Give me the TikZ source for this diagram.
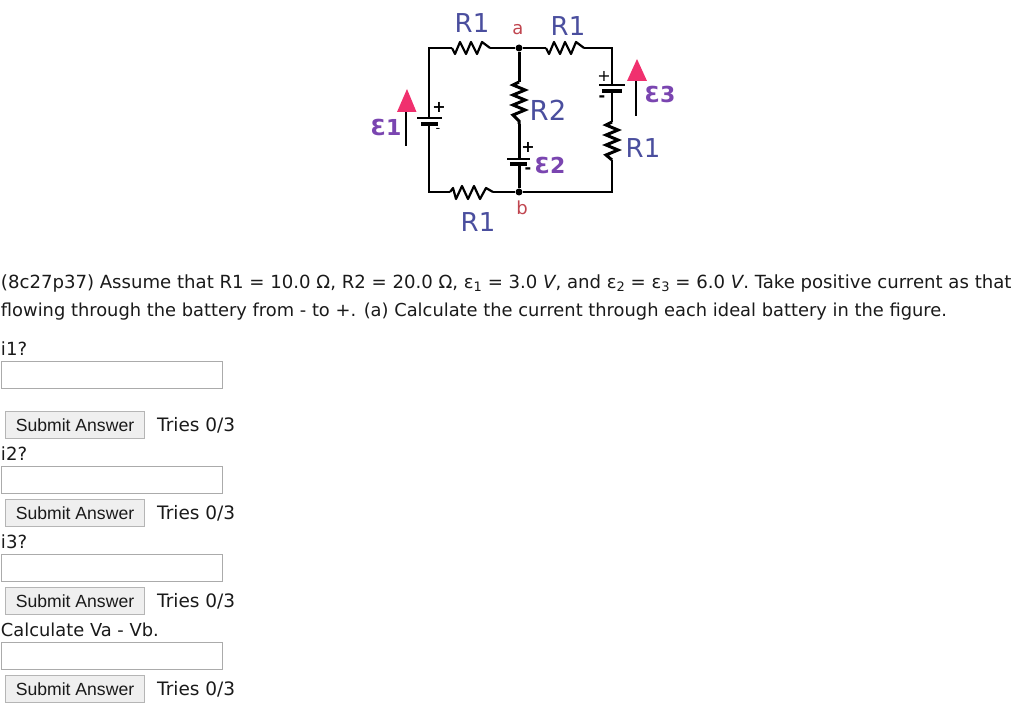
\documentclass[tikz,border=0pt]{standalone}
\usepackage{fontspec}
\setmainfont{DejaVu Sans}
\newfontfamily\btnfont{Liberation Sans}
\definecolor{labblue}{HTML}{4A4E9E}
\definecolor{labred}{HTML}{C0454F}
\definecolor{labpurple}{HTML}{7A45B0}
\definecolor{arrowpink}{HTML}{F0306E}
\definecolor{btnfill}{HTML}{EFEFEF}
\definecolor{btnline}{HTML}{B5B5B5}
\definecolor{boxline}{HTML}{ABABAB}
\definecolor{txt}{HTML}{1A1A1A}
\tikzset{
  x=1pt,y=-1pt,
  body/.style={anchor=base west,inner sep=0pt,outer sep=0pt,text=txt,font=\fontsize{18.1}{20}\selectfont},
  bodyb/.style={anchor=base west,inner sep=0pt,outer sep=0pt,text=txt,font=\fontsize{17.85}{20}\selectfont},
  tries/.style={anchor=base west,inner sep=0pt,text=txt,font=\fontsize{18.5}{22}\selectfont},
  answerbox/.style={draw=boxline,line width=1pt,fill=white,minimum width=221pt,minimum height=27pt,anchor=north west,inner sep=0pt,outer sep=0pt},
  submitbtn/.style={draw=btnline,line width=1pt,fill=btnfill,minimum width=139pt,minimum height=27pt,anchor=north west,inner sep=0pt,text=txt,font=\btnfont\fontsize{17.6}{20}\selectfont},
  wire/.style={line width=2.3pt,black,line join=miter},
  thickwire/.style={line width=3pt,black},
  plate/.style={line width=1.8pt,black},
  shortplate/.style={line width=3.2pt,black},
  zig/.style={line width=2.2pt,black,line join=round},
  vzig/.style={line width=3pt,black,line join=miter},
  sign/.style={inner sep=0pt,text=black,font=\bfseries\fontsize{16}{16}\selectfont},
  rlabel/.style={inner sep=0pt,text=labblue,font=\fontsize{26}{26}\selectfont},
  ptlabel/.style={inner sep=0pt,text=labred,font=\fontsize{18}{18}\selectfont},
  emf/.style={inner sep=0pt,text=labpurple,font=\bfseries\fontsize{22}{22}\selectfont},
  stem/.style={line width=2.2pt,black},
  head/.style={fill=arrowpink,draw=none},
}
\begin{document}
\begin{tikzpicture}
\useasboundingbox (0,0) rectangle (1024,703);
% junctions and corners
\coordinate (tl) at (429,48);
\coordinate (tr) at (612,48);
\coordinate (bl) at (429,192);
\coordinate (br) at (612,192);
\node[circle,fill=black,minimum size=7pt,inner sep=0pt] (a) at (519,48) {};
\node[circle,fill=black,minimum size=7pt,inner sep=0pt] (b) at (519,192) {};
% resistor terminals
\coordinate (r1s) at (452,48); \coordinate (r1e) at (490,48);
\coordinate (r2s) at (546,48); \coordinate (r2e) at (584,48);
\coordinate (r3s) at (450,192); \coordinate (r3e) at (493,192);
\coordinate (r4s) at (519,82); \coordinate (r4e) at (519,124);
\coordinate (r5s) at (612,122); \coordinate (r5e) at (612,160);
% battery plates
\coordinate (b1a) at (429,118); \coordinate (b1b) at (429,124);
\coordinate (b2a) at (519,159); \coordinate (b2b) at (519,164);
\coordinate (b3a) at (612,85);  \coordinate (b3b) at (612,91);
% wires
\draw[wire] (b1a) -- (tl) -- (r1s);
\draw[wire] (r1e) -- (a) -- (r2s);
\draw[wire] (r2e) -- (tr) -- (b3a);
\draw[wire] (b3b) -- (r5s);
\draw[wire] (r5e) -- (br) -- (b) -- (r3e);
\draw[wire] (r3s) -- (bl) -- (b1b);
\draw[thickwire] (a) -- (r4s);
\draw[thickwire] (r4e) -- (b2a);
\draw[thickwire] (b2b) -- (b);
% horizontal resistors
\draw[zig] (r1s) -- ++(3,6) -- ++(5,-12) -- ++(6,12) -- ++(5,-12) -- ++(6,12) -- ++(5,-12) -- (r1e);
\draw[zig] (r2s) -- ++(3,6) -- ++(5,-12) -- ++(6,12) -- ++(5,-12) -- ++(6,12) -- ++(5,-12) -- (r2e);
\draw[zig] (r3s) -- ++(3,-4) -- ++(3,11) -- ++(6,-13) -- ++(6,13) -- ++(6,-13) -- ++(6,13) -- ++(6,-11) -- (r3e);
% vertical resistors
\draw[vzig] (r4s) -- ++(-6,3) -- ++(12,5) -- ++(-12,5) -- ++(12,5) -- ++(-12,5) -- ++(12,5) -- ++(-12,5) -- ++(6,6) -- (r4e);
\draw[vzig] (r5s) -- ++(-6,3) -- ++(12,5) -- ++(-12,5) -- ++(12,5) -- ++(-12,5) -- ++(12,5) -- ++(-12,5) -- (r5e);
% batteries
\draw[plate] (417,118) -- (442,118);
\draw[shortplate] (421,124) -- (438,124);
\draw[plate] (507,159) -- (530,159);
\draw[shortplate] (510,164) -- (527,164);
\draw[plate] (599,85) -- (625,85);
\draw[shortplate] (602,91) -- (622,91);
% signs
\node[sign] (p1) at (439,107) {+};
\node[sign,font=\fontsize{13}{13}\selectfont] (m1) at (438,130) {-};
\node[sign] (p2) at (528,147) {+};
\node[sign] (m2) at (528,171) {-};
\node[sign,font=\fontsize{16}{16}\selectfont] (p3) at (604,76) {+};
\node[sign] (m3) at (602,99) {-};
% emf arrows
\coordinate (e1t) at (406,112); \coordinate (e1b) at (406,146);
\coordinate (e3t) at (636,81);  \coordinate (e3b) at (636,116);
\draw[stem] (e1t) -- (e1b);
\draw[stem] (e3t) -- (e3b);
\fill[head] (407,89) -- (416.5,112) -- (397,112) -- cycle;
\fill[head] (637,59) -- (647,81) -- (627,81) -- cycle;
% circuit labels
\node[rlabel] (l1) at (472,23) {R1};
\node[rlabel] (l2) at (568,26) {R1};
\node[rlabel] (l3) at (478,222) {R1};
\node[rlabel,font=\fontsize{27.5}{27.5}\selectfont] (l4) at (548,110) {R2};
\node[rlabel] (l5) at (643,148) {R1};
\node[ptlabel] (la) at (518,30) {a};
\node[ptlabel] (lb) at (522,208) {b};
\node[emf] (ee1) at (386,127) {Ɛ1};
\node[emf] (ee2) at (550,165) {Ɛ2};
\node[emf] (ee3) at (660,94) {Ɛ3};
% question text
\node[body] (q1) at (1,288) {(8c27p37) Assume that R1 = 10.0 Ω, R2 = 20.0 Ω, ε\raisebox{-3pt}{\fontsize{13}{13}\selectfont 1} = 3.0 \textit{V}, and ε\raisebox{-3pt}{\fontsize{13}{13}\selectfont 2} = ε\raisebox{-3pt}{\fontsize{13}{13}\selectfont 3} = 6.0 \textit{V}. Take positive current as that};
\node[bodyb] (q2) at (1,316) {flowing through the battery from - to +. (a) Calculate the current through each ideal battery in the figure.};
% answer rows
\node[body] (i1) at (1,355) {i1?};
\node[answerbox] (box1) at (1,361.5) {};
\node[submitbtn] (btn1) at (5,411) {Submit Answer};
\node[tries] (t1) at (157,431) {Tries 0/3};
\node[body] (i2) at (1,460) {i2?};
\node[answerbox] (box2) at (1,466.5) {};
\node[submitbtn] (btn2) at (5,499) {Submit Answer};
\node[tries] (t2) at (157,519) {Tries 0/3};
\node[body] (i3) at (1,548) {i3?};
\node[answerbox] (box3) at (1,554.5) {};
\node[submitbtn] (btn3) at (5,587) {Submit Answer};
\node[tries] (t3) at (157,607) {Tries 0/3};
\node[bodyb] (i4) at (1,636) {Calculate Va - Vb.};
\node[answerbox] (box4) at (1,642.5) {};
\node[submitbtn] (btn4) at (5,675) {Submit Answer};
\node[tries] (t4) at (157,695) {Tries 0/3};
\end{tikzpicture}
\end{document}
